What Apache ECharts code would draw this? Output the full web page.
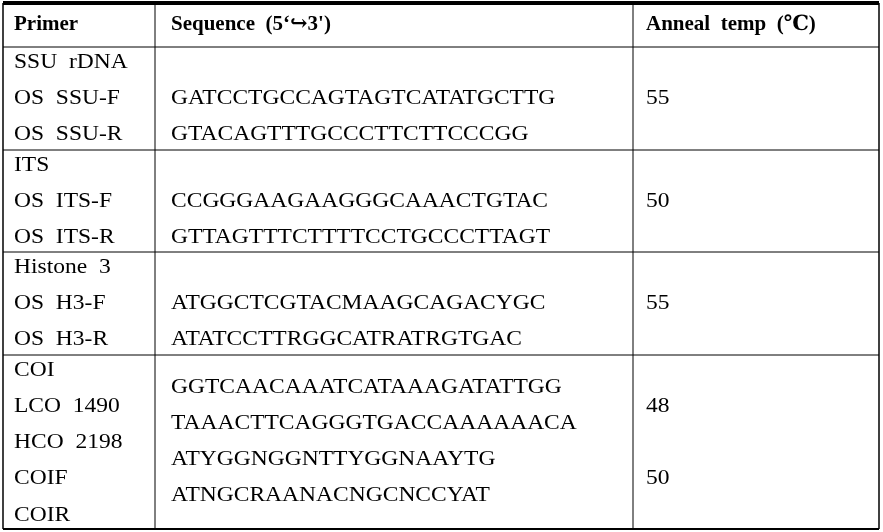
<!DOCTYPE html>
<html><head><meta charset="utf-8">
<script src="https://cdn.jsdelivr.net/npm/echarts@6/dist/echarts.min.js"></script>
<style>html,body{margin:0;background:#fff}#c{width:883px;height:532px}</style>
</head><body><div id="c"></div>
<script>
const headers = ['Primer', 'Sequence  (5\u2018\u21aa3\')', 'Anneal  temp  (\u2103)'];
const primerCol = [
  ['SSU  rDNA','OS  SSU-F','OS  SSU-R'],
  ['ITS','OS  ITS-F','OS  ITS-R'],
  ['Histone  3','OS  H3-F','OS  H3-R'],
  ['COI','LCO  1490','HCO  2198','COIF','COIR']
];
const seqCol = [
  ['GATCCTGCCAGTAGTCATATGCTTG','GTACAGTTTGCCCTTCTTCCCGG'],
  ['CCGGGAAGAAGGGCAAACTGTAC','GTTAGTTTCTTTTCCTGCCCTTAGT'],
  ['ATGGCTCGTACMAAGCAGACYGC','ATATCCTTRGGCATRATRGTGAC'],
  ['GGTCAACAAATCATAAAGATATTGG','TAAACTTCAGGGTGACCAAAAAACA','ATYGGNGGNTTYGGNAAYTG','ATNGCRAANACNGCNCCYAT']
];
const tempCol = [['55'],['50'],['55'],['48','50']];

const X0=3, X1=155, X2=633, X3=879, TOP=3, HEAD=47;
const groupTops=[47,150,252,355,529];
const font='"Liberation Serif", "DejaVu Serif", serif';
const els=[];
function line(x1,y1,x2,y2,w){els.push({type:'line',shape:{x1,y1,x2,y2},style:{stroke:'#000',lineWidth:w||1}});}
function txt(x,y,t,bold){els.push({type:'text',x,y,scaleX:bold?1:1.12,style:{text:t,font:(bold?'bold ':'')+'21px '+font,fill:'#000',textVerticalAlign:'middle'}});}
line(X0,TOP,X3,TOP,4);
line(X0,529,X3,529,2);
line(X0,TOP,X0,529,1.5);line(X1,TOP,X1,529,1);line(X2,TOP,X2,529,1);line(X3,TOP,X3,529,1.5);
line(X0,HEAD,X3,HEAD,1);
groupTops.slice(1,4).forEach(y=>line(X0,y,X3,y,1));
txt(14,25,headers[0],true);txt(171,25,headers[1],true);txt(646,25,headers[2],true);
const step=36.3;
primerCol.forEach((g,gi)=>{
  const t=groupTops[gi];
  g.forEach((p,i)=>txt(14,t+15+i*step,p));
  const seqs=seqCol[gi], temps=tempCol[gi];
  if(gi<3){
    seqs.forEach((s,i)=>txt(171,t+51+i*step,s));
    txt(646,t+51,temps[0]);
  } else {
    seqs.forEach((s,i)=>txt(171,t+32+i*step,s));
    txt(646,t+51,temps[0]);txt(646,t+123,temps[1]);
  }
});
const chart=echarts.init(document.getElementById('c'));
chart.setOption({animation:false,graphic:{elements:els}});
</script></body></html>
